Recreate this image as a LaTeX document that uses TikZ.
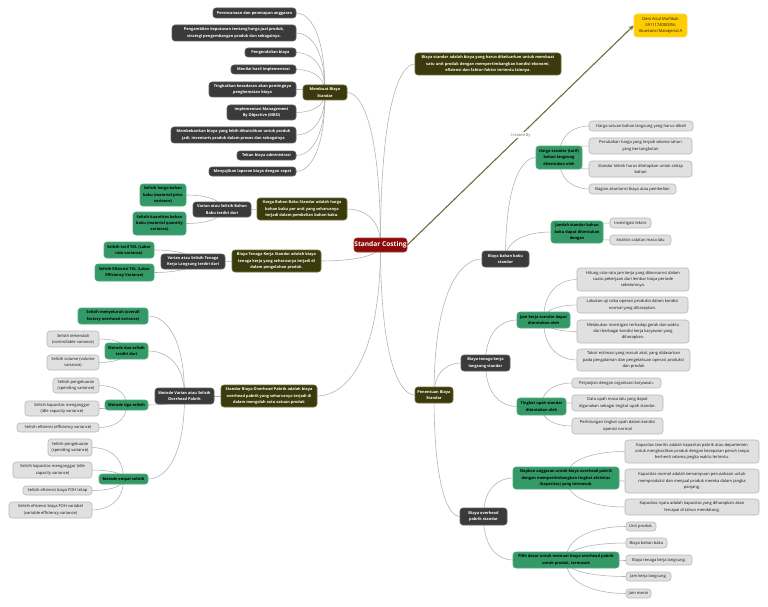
\documentclass[tikz,border=0pt]{standalone}
\usepackage{fontspec}
\setmainfont{Open Sans}
\usetikzlibrary{backgrounds,arrows.meta,calc}
\definecolor{rootred}{HTML}{8B0A0A}
\definecolor{olive}{HTML}{3A3A0C}
\definecolor{oliveedge}{HTML}{6E6E3C}
\definecolor{darkbox}{HTML}{3A3A3A}
\definecolor{greenbox}{HTML}{339966}
\definecolor{greybox}{HTML}{E0E0E0}
\definecolor{greyedge}{HTML}{B8B8B8}
\definecolor{yellowbox}{HTML}{FFCC00}
\definecolor{linkgrey}{HTML}{B0B0B0}
\tikzset{
  box/.style={rectangle,rounded corners=3pt,align=center,inner sep=0pt,line width=.6pt},
  rootbox/.style={box,fill=rootred,draw=rootred!80!white,text=white,font=\fontsize{6.6}{8}\selectfont\bfseries},
  olivebox/.style={box,fill=olive,draw=oliveedge,text=white,font=\fontsize{3.9}{6.3}\selectfont\bfseries},
  dbox/.style={box,fill=darkbox,draw=darkbox!80!white,text=white,font=\fontsize{3.9}{6.3}\selectfont\bfseries},
  gbox/.style={box,fill=greenbox,draw=greenbox!85!white,text=black,font=\fontsize{3.9}{6.3}\selectfont\bfseries},
  lbox/.style={box,fill=greybox,draw=greyedge,text=black!90,font=\fontsize{4.05}{6.3}\selectfont},
  ybox/.style={box,fill=yellowbox,draw=yellowbox!75!white,text=black!90,font=\fontsize{4.05}{6.3}\selectfont},
  linkline/.style={draw=linkgrey,line width=.55pt},
  stemline/.style={draw=linkgrey,line width=.55pt},
  relline/.style={draw=oliveedge,line width=1.1pt,-{Stealth[length=5pt,width=4.5pt]}},
  rellabel/.style={fill=white,inner sep=.8pt,text=black!55,font=\fontsize{3.9}{5}\selectfont}
}
% style, name, x1, y1, x2, y2, text
\newcommand\mnode[7]{\node[#1,minimum width={(#5-#3)*1pt},minimum height={(#6-#4)*1pt}] (#2) at ({(#3+#5)/2},{(#4+#6)/2}) {#7};}
\newcommand\linkL[2]{\path[linkline] (#1.center) .. controls ($(#1.center)!.8!(#1.center |- #2.east)$) and ($(#1.center |- #2.east)!.6!(#2.east)$) .. (#2.east);}
\newcommand\linkR[2]{\path[linkline] (#1.center) .. controls ($(#1.center)!.8!(#1.center |- #2.west)$) and ($(#1.center |- #2.west)!.6!(#2.west)$) .. (#2.west);}
\begin{document}
\begin{tikzpicture}[x=1pt,y=-1pt]
\useasboundingbox (0,0) rectangle (768,607);
% root
\mnode{rootbox}{root}{354}{238}{407}{252}{Standar Costing}
\mnode{ybox}{deni}{634}{14}{687}{37}{Deni Aisul Muflikah\\0911174000056\\Akuntansi Manajerial A}
% left branch 1
\mnode{olivebox}{membuat}{303}{85}{347}{100}{Membuat Biaya\\Standar}
\mnode{dbox}{ma}{213}{8}{296}{18}{Perencanaan dan penetapan anggaran}
\mnode{dbox}{mb}{172}{25}{296}{41}{Pengambilan keputusan tentang harga jual produk,\\strategi pengembangan produk dan sebagainya.}
\mnode{dbox}{mc}{245}{48}{296}{57}{Pengendalian biaya}
\mnode{dbox}{md}{231}{65}{296}{74}{Menilai hasil implementasi}
\mnode{dbox}{me}{209}{82}{296}{97}{Tingkatkan kesadaran akan pentingnya\\penghematan biaya}
\mnode{dbox}{mf}{227}{105}{296}{120}{Implementasi Management\\By Objective (MBO)}
\mnode{dbox}{mg}{171}{127}{296}{143}{Membebankan biaya yang lebih dibutuhkan untuk produk\\jadi, inventaris produk dalam proses dan sebagainya}
\mnode{dbox}{mh}{237}{151}{296}{160}{Tekan biaya administrasi}
\mnode{dbox}{mi}{209}{167}{296}{176}{Menyajikan laporan biaya dengan cepat}
% left branch 2
\mnode{olivebox}{hargabb}{257}{198}{347}{220}{Harga Bahan Baku Standar adalah harga\\bahan baku per unit yang seharusnya\\terjadi dalam pembelian bahan baku.}
\mnode{dbox}{varbb}{193}{202}{251}{217}{Varian atau Selisih Bahan\\Baku terdiri dari}
\mnode{gbox}{sharga}{140}{184}{186}{206}{Selisih harga bahan\\baku (material price\\variance)}
\mnode{gbox}{skuant}{133}{212}{186}{235}{Selisih kuantitas bahan\\baku (material quantity\\variance)}
% left branch 3
\mnode{olivebox}{tenaga}{232}{250}{321}{272}{Biaya Tenaga Kerja Standar adalah biaya\\tenaga kerja yang seharusnya terjadi di\\dalam pengolahan produk.}
\mnode{dbox}{vartk}{161}{254}{225}{269}{Varian atau Selisih Tenaga\\Kerja Langsung terdiri dari}
\mnode{gbox}{starif}{104}{242}{154}{258}{Selisih tarif TKL (Labor\\rate variance)}
\mnode{gbox}{sefis}{95}{264}{154}{281}{Selisih Efisiensi TKL (Labor\\Efficiency Variance)}
% left branch 4
\mnode{olivebox}{overhead}{221}{385}{317}{407}{Standar Biaya Overhead Pabrik adalah biaya\\overhead pabrik yang seharusnya terjadi di\\dalam mengolah satu satuan produk}
\mnode{dbox}{varoh}{155}{388}{214}{404}{Metode Varian atau Selisih\\Overhead Pabrik}
\mnode{gbox}{smen}{78}{308}{148}{324}{Selisih menyeluruh (overall\\factory overhead variance)}
\mnode{gbox}{mdua}{105}{343}{148}{359}{Metode dua selisih\\terdiri dari}
\mnode{lbox}{dua1}{47}{331}{99}{347}{Selisih terkendali\\(controllable variance)}
\mnode{lbox}{dua2}{47}{355}{99}{370}{Selisih volume (volume\\variance)}
\mnode{gbox}{mtiga}{105}{400}{148}{410}{Metode tiga selisih}
\mnode{lbox}{tiga1}{53}{378}{99}{393}{Selisih pengeluaran\\(spending variance)}
\mnode{lbox}{tiga2}{25}{401}{99}{416}{Selisih kapasitas menganggur\\(idle capacity variance)}
\mnode{lbox}{tiga3}{17}{423}{99}{432}{Selisih efisiensi (efficiency variance)}
\mnode{gbox}{mempat}{99}{474}{148}{484}{Metode empat selisih}
\mnode{lbox}{emp1}{48}{439}{92}{456}{Selisih pengeluaran\\(spending variance)}
\mnode{lbox}{emp2}{13}{462}{92}{478}{Selisih kapasitas menganggur (idle\\capacity variance)}
\mnode{lbox}{emp3}{23}{486}{92}{495}{Selisih efisiensi biaya FOH tetap}
\mnode{lbox}{emp4}{9}{502}{92}{518}{Selisih efisiensi biaya FOH variabel\\(variable efficiency variance)}
% right branch 1
\mnode{olivebox}{biayastd}{415}{53}{561}{75}{Biaya standar adalah biaya yang harus dikeluarkan untuk membuat\\satu unit produk dengan mempertimbangkan kondisi ekonomi,\\efisiensi dan faktor-faktor tertentu lainnya.}
% right branch 2
\mnode{olivebox}{penentuan}{415}{387}{453}{403}{Penentuan Biaya\\Standar}
\mnode{dbox}{bbb}{482}{251}{529}{267}{Biaya bahan baku\\standar}
\mnode{gbox}{hstd}{536}{146}{582}{169}{Harga standar (tarif)\\bahan langsung\\ditentukan oleh}
\mnode{lbox}{h1}{589}{121}{693}{131}{Harga satuan bahan langsung yang harus dibeli}
\mnode{lbox}{h2}{589}{138}{692}{154}{Perubahan harga yang terjadi selama tahun\\yang bersangkutan}
\mnode{lbox}{h3}{589}{161}{692}{177}{Standar teknik harus ditetapkan untuk setiap\\bahan}
\mnode{lbox}{h4}{589}{184}{676}{194}{Bagian akuntansi biaya atau pembelian}
\mnode{gbox}{jstd}{551}{221}{603}{243}{Jumlah standar bahan\\baku dapat ditentukan\\dengan}
\mnode{lbox}{j1}{610}{218}{651}{228}{Investigasi teknis}
\mnode{lbox}{j2}{610}{235}{671}{245}{Analisis catatan masa lalu}
\mnode{dbox}{btk}{461}{355}{510}{371}{Biaya tenaga kerja\\langsung standar}
\mnode{gbox}{jam}{517}{312}{570}{328}{Jam kerja standar dapat\\ditentukan oleh}
\mnode{lbox}{jk1}{577}{268}{689}{291}{Hitung rata-rata jam kerja yang dikonsumsi dalam\\suatu pekerjaan dari lembar biaya periode\\sebelumnya.}
\mnode{lbox}{jk2}{577}{297}{688}{313}{Lakukan uji coba operasi produksi dalam kondisi\\normal yang diharapkan.}
\mnode{lbox}{jk3}{577}{320}{689}{343}{Melakukan investigasi terhadap gerak dan waktu\\dari berbagai kondisi kerja karyawan yang\\diharapkan.}
\mnode{lbox}{jk4}{577}{349}{690}{371}{Taksir estimasi yang masuk akal, yang didasarkan\\pada pengalaman dan pengetahuan operasi produksi\\dan produk}
\mnode{gbox}{tupah}{517}{398}{566}{415}{Tingkat upah standar\\ditentukan oleh}
\mnode{lbox}{u1}{572}{378}{661}{388}{Perjanjian dengan organisasi karyawan.}
\mnode{lbox}{u2}{572}{395}{663}{411}{Data upah masa lalu yang dapat\\digunakan sebagai tingkat upah standar.}
\mnode{lbox}{u3}{572}{418}{663}{434}{Perhitungan tingkat upah dalam kondisi\\operasi normal}
\mnode{dbox}{bop}{460}{508}{507}{525}{Biaya overhead\\pabrik standar}
\mnode{gbox}{siapkan}{513}{467}{619}{489}{Siapkan anggaran untuk biaya overhead pabrik\\dengan mempertimbangkan tingkat aktivitas\\(kapasitas) yang termasuk.}
\mnode{lbox}{k1}{625}{440}{759}{463}{Kapasitas teoritis adalah kapasitas pabrik atau departemen\\untuk menghasilkan produk dengan kecepatan penuh tanpa\\berhenti selama jangka waktu tertentu.}
\mnode{lbox}{k2}{625}{469}{759}{493}{Kapasitas normal adalah kemampuan perusahaan untuk\\memproduksi dan menjual produk mereka dalam jangka\\panjang.}
\mnode{lbox}{k3}{625}{499}{759}{515}{Kapasitas nyata adalah kapasitas yang diharapkan akan\\tercapai di tahun mendatang.}
\mnode{gbox}{pilih}{513}{552}{619}{568}{Pilih dasar untuk memuat biaya overhead pabrik\\untuk produk, termasuk}
\mnode{lbox}{p1}{626}{522}{656}{531}{Unit produk.}
\mnode{lbox}{p2}{626}{538}{667}{548}{Biaya bahan baku}
\mnode{lbox}{p3}{626}{555}{692}{565}{Biaya tenaga kerja langsung.}
\mnode{lbox}{p4}{626}{572}{671}{581}{Jam kerja langsung.}
\mnode{lbox}{p5}{626}{589}{651}{598}{Jam mesin}
% relation
\draw[relline] (root.east) -- node[rellabel]{Created By} (deni.west);
\begin{scope}[on background layer]
\fill[white] (0,0) rectangle (768,607);
\linkL{root}{membuat}\linkL{root}{hargabb}\linkL{root}{tenaga}\linkL{root}{overhead}
\linkR{root}{biayastd}\linkR{root}{penentuan}
\linkL{membuat}{ma}\linkL{membuat}{mb}\linkL{membuat}{mc}\linkL{membuat}{md}\linkL{membuat}{me}
\linkL{membuat}{mf}\linkL{membuat}{mg}\linkL{membuat}{mh}\linkL{membuat}{mi}
\path[stemline] (hargabb) -- (varbb);
\linkL{varbb}{sharga}\linkL{varbb}{skuant}
\path[stemline] (tenaga) -- (vartk);
\linkL{vartk}{starif}\linkL{vartk}{sefis}
\path[stemline] (overhead) -- (varoh);
\linkL{varoh}{smen}\linkL{varoh}{mdua}\linkL{varoh}{mtiga}\linkL{varoh}{mempat}
\linkL{mdua}{dua1}\linkL{mdua}{dua2}
\linkL{mtiga}{tiga1}\linkL{mtiga}{tiga2}\linkL{mtiga}{tiga3}
\linkL{mempat}{emp1}\linkL{mempat}{emp2}\linkL{mempat}{emp3}\linkL{mempat}{emp4}
\linkR{penentuan}{bbb}\linkR{penentuan}{btk}\linkR{penentuan}{bop}
\linkR{bbb}{hstd}\linkR{bbb}{jstd}
\linkR{hstd}{h1}\linkR{hstd}{h2}\linkR{hstd}{h3}\linkR{hstd}{h4}
\linkR{jstd}{j1}\linkR{jstd}{j2}
\linkR{btk}{jam}\linkR{btk}{tupah}
\linkR{jam}{jk1}\linkR{jam}{jk2}\linkR{jam}{jk3}\linkR{jam}{jk4}
\linkR{tupah}{u1}\linkR{tupah}{u2}\linkR{tupah}{u3}
\linkR{bop}{siapkan}\linkR{bop}{pilih}
\linkR{siapkan}{k1}\linkR{siapkan}{k2}\linkR{siapkan}{k3}
\linkR{pilih}{p1}\linkR{pilih}{p2}\linkR{pilih}{p3}\linkR{pilih}{p4}\linkR{pilih}{p5}
\end{scope}
\end{tikzpicture}
\end{document}
